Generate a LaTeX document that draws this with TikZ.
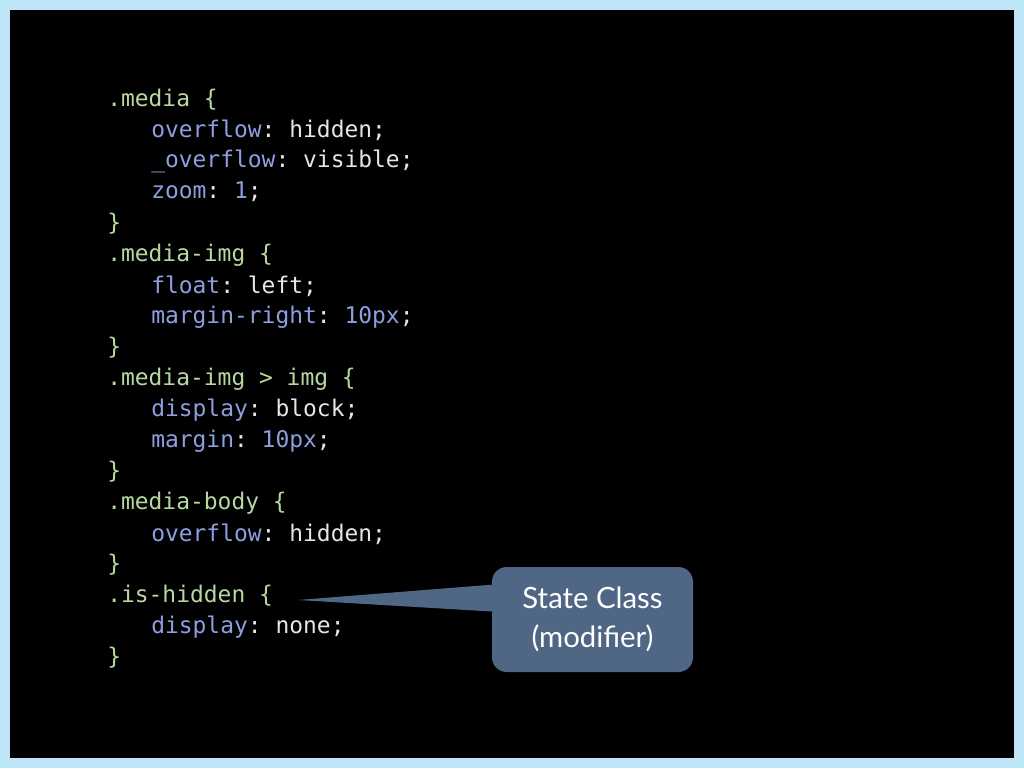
\documentclass[tikz,border=0pt]{standalone}
\usepackage{fontspec}
\setmonofont{DejaVu Sans Mono}
\setsansfont{Lato}
\definecolor{frame}{HTML}{BDE6F8}
\definecolor{selgreen}{HTML}{B8D8A2}
\definecolor{propblue}{HTML}{8E9FE0}
\definecolor{valwhite}{HTML}{E6E6E6}
\definecolor{callout}{HTML}{4F6785}
\newcommand{\sel}[1]{\textcolor{selgreen}{#1}}
\newcommand{\prop}[1]{\textcolor{propblue}{#1}}
\newcommand{\val}[1]{\textcolor{valwhite}{#1}}
\tikzset{code/.style={anchor=west,inner sep=0pt,font=\ttfamily\fontsize{17.2}{20}\selectfont}}
\begin{document}
\begin{tikzpicture}[x=0.75pt,y=-0.75pt]
\fill[frame] (0,0) rectangle (1024,768);
\fill[black] (10,10) rectangle (1014,758);
% code lines
\node[code] (l1) at (107,100) {\sel{.media \{}};
\node[code] at (151,130) {\prop{overflow}\val{: hidden;}};
\node[code] at (151,161) {\prop{\_overflow}\val{: visible;}};
\node[code] at (151,192) {\prop{zoom}\val{: }\prop{1}\val{;}};
\node[code] at (107,224) {\sel{\}}};
\node[code] at (107,255) {\sel{.media-img \{}};
\node[code] at (151,286) {\prop{float}\val{: left;}};
\node[code] at (151,317) {\prop{margin-right}\val{: }\prop{10px}\val{;}};
\node[code] at (107,348) {\sel{\}}};
\node[code] at (107,379) {\sel{.media-img > img \{}};
\node[code] at (151,410) {\prop{display}\val{: block;}};
\node[code] at (151,441) {\prop{margin}\val{: }\prop{10px}\val{;}};
\node[code] at (107,472) {\sel{\}}};
\node[code] at (107,503) {\sel{.media-body \{}};
\node[code] at (151,534) {\prop{overflow}\val{: hidden;}};
\node[code] at (107,565) {\sel{\}}};
\node[code] (hidden) at (107,596) {\sel{.is-hidden \{}};
\node[code] at (151,627) {\prop{display}\val{: none;}};
\node[code] at (107,658) {\sel{\}}};
% callout
\coordinate (tip) at (298,600);
\fill[callout] (tip) -- (500,584) -- (500,612) -- cycle;
\node[fill=callout,rounded corners=11pt,minimum width=150.75pt,minimum height=78.75pt,
  align=center,text=white,font=\sffamily\fontsize{22}{29}\selectfont] (state) at (592.5,619.5)
  {State Class\\(modifier)};
\end{tikzpicture}
\end{document}
